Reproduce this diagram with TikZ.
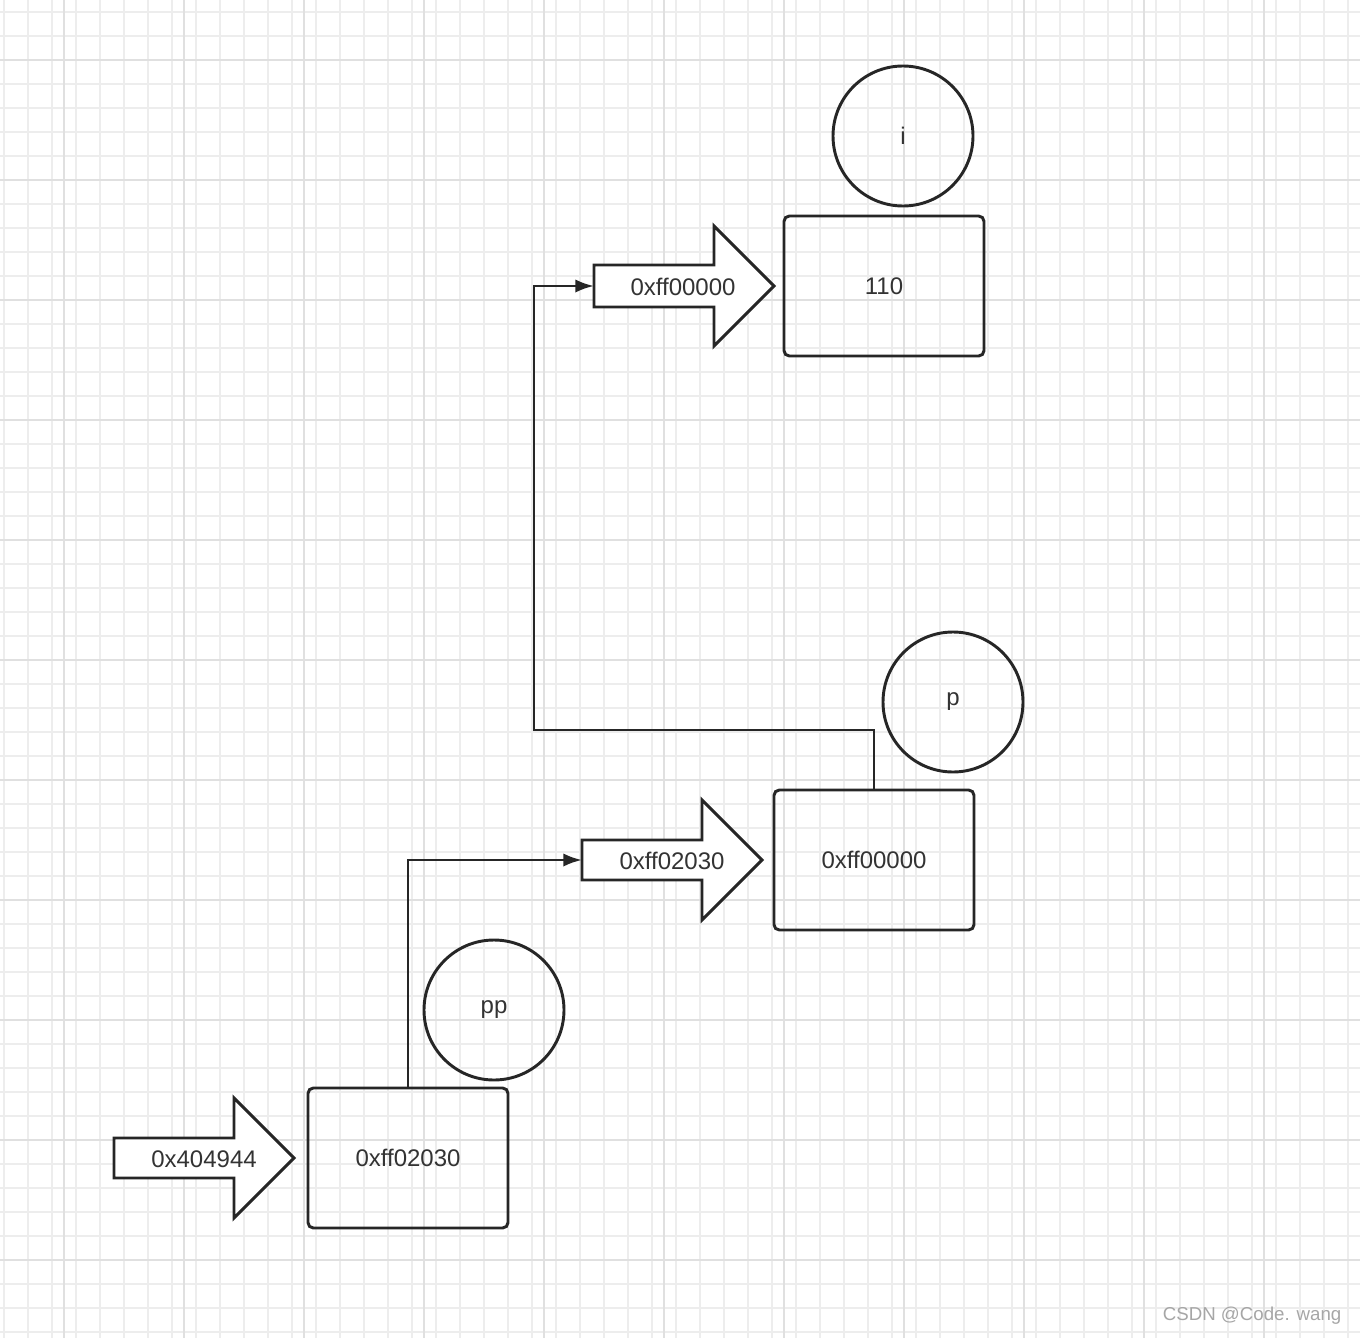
\documentclass[tikz,border=0pt]{standalone}
\usepackage{fontspec}
\setmainfont{Liberation Sans}
\usetikzlibrary{arrows.meta}
\begin{document}
\begin{tikzpicture}[x=0.75pt,y=-0.75pt,
  every node/.style={font=\fontsize{18}{20}\selectfont, text=black!80},
  box/.style={draw=black!85, line width=2.2pt, rounded corners=4pt, minimum width=150pt, minimum height=105pt, inner sep=0pt},
  circ/.style={draw=black!85, line width=2.2pt, circle, minimum size=105pt, inner sep=0pt},
  fat/.style={draw=black!85, line width=2.2pt, fill=white, line join=miter},
  conn/.style={draw=black!85, line width=2pt, -{Latex[length=14pt,width=10pt]}}]
\fill[white] (0,0) rectangle (1360,1338);
\useasboundingbox (0,0) rectangle (1360,1338);
\foreach \i in {0,...,57}{\draw[black!7, line width=0.8pt] (4+24*\i,0) -- (4+24*\i,1338);}
\foreach \i in {0,...,56}{\draw[black!7, line width=0.8pt] (0,12+24*\i) -- (1360,12+24*\i);}
\foreach \i in {0,...,11}{\draw[black!12, line width=1.4pt] (64+120*\i,0) -- (64+120*\i,1338);}
\foreach \i in {0,...,11}{\draw[black!12, line width=1.4pt] (0,60+120*\i) -- (1360,60+120*\i);}
% arrows
\draw[fat] (594,265) -- (714,265) -- (714,226) -- (774,286) -- (714,346) -- (714,307) -- (594,307) -- cycle;
\node (a1) at (683,287) {0xff00000};
\coordinate (a1in) at (594,286);
\draw[fat] (582,840) -- (702,840) -- (702,800) -- (762,860) -- (702,920) -- (702,880) -- (582,880) -- cycle;
\node (a2) at (672,861) {0xff02030};
\coordinate (a2in) at (582,860);
\draw[fat] (114,1138) -- (234,1138) -- (234,1098) -- (294,1158) -- (234,1218) -- (234,1178) -- (114,1178) -- cycle;
\node (a3) at (204,1159) {0x404944};
% boxes
\node[box] (b1) at (884,286) {110};
\node[box] (b2) at (874,860) {0xff00000};
\node[box] (b3) at (408,1158) {0xff02030};
\node[circ] (ci) at (903,136) {i};
\node[circ] (cp) at (953,702) {p};
\node[circ] (cpp) at (494,1010) {pp};
% connectors
\draw[conn] (b2.north) -- (874,730) -- (534,730) -- (534,286) -- (a1in);
\draw[conn] (b3.north) -- (408,860) -- (a2in);
\node[anchor=east, text=black!35, font=\fontsize{14}{16}\selectfont] (wm) at (1346,1316) {CSDN @Code. wang};
\end{tikzpicture}
\end{document}
